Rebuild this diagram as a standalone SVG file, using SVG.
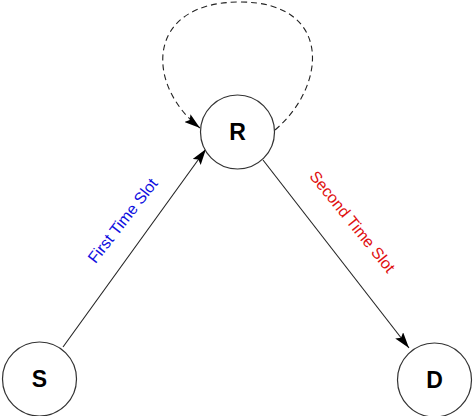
<svg xmlns="http://www.w3.org/2000/svg" width="474" height="416" viewBox="0 0 474 416">
<defs>
<marker id="ah" viewBox="0 0 16 10" refX="16" refY="5" markerWidth="16" markerHeight="10" markerUnits="userSpaceOnUse" orient="auto">
<path d="M0,0 L16,5 L0,10 L3,5 Z" fill="#000"/>
</marker>
<style>
.node{fill:#fff;stroke:#333;stroke-width:1.2}
.nl{font-family:"Liberation Sans",Arial,sans-serif;font-weight:bold;font-size:23px;text-anchor:middle;fill:#000}
.edge{fill:none;stroke:#222;stroke-width:1.1}
.lbl{font-family:"Liberation Sans",Arial,sans-serif;font-size:16px;text-anchor:middle}
</style>
</defs>
<rect width="474" height="416" fill="#fff"/>
<g id="connectors">
<path class="edge" d="M63,347 L206,149" marker-end="url(#ah)"/>
<path class="edge" d="M263,160 L409,348" marker-end="url(#ah)"/>
<path class="edge" stroke-dasharray="6,4" d="M275,130 C328,85 332,2 240,2 C145,2 145,85 200,128" marker-end="url(#ah)"/>
</g>
<g id="R"><circle class="node" cx="237.5" cy="132" r="37"/><text class="nl" x="237.5" y="140">R</text></g>
<g id="S"><circle class="node" cx="39.5" cy="379" r="37"/><text class="nl" x="39.5" y="387">S</text></g>
<g id="D"><circle class="node" cx="434.5" cy="380" r="37"/><text class="nl" x="434.5" y="388">D</text></g>
<g id="labels">
<text class="lbl" fill="#1010e0" transform="translate(123,221) rotate(-52)" y="5">First Time Slot</text>
<text class="lbl" fill="#e01010" transform="translate(352,222) rotate(51)" y="5">Second Time Slot</text>
</g>
</svg>
